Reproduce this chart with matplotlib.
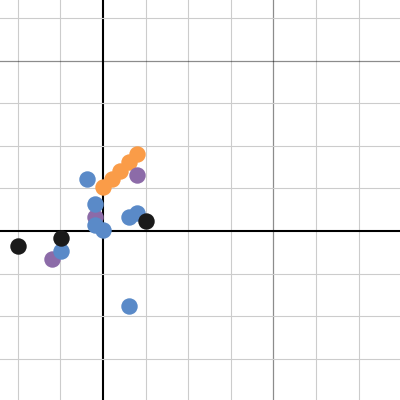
import numpy as np
import matplotlib.pyplot as plt

orange_x = [0.0, 0.21, 0.40, 0.61, 0.80]
orange_y = [1.03, 1.22, 1.41, 1.62, 1.81]
purple_x = [0.80, -0.19, -1.20]
purple_y = [1.31, 0.33, -0.66]
blue_x = [-0.38, -0.19, -0.19, 0.0, 0.61, 0.80, -0.99, 0.61]
blue_y = [1.22, 0.63, 0.14, 0.02, 0.33, 0.42, -0.47, -1.76]
black_x = [-2.0, -0.99, 1.01]
black_y = [-0.35, -0.16, 0.23]

fig = plt.figure(figsize=(4, 4), dpi=100)
ax = fig.add_axes([0, 0, 1, 1])
xmin, xmax = -103 / 42.6, 297 / 42.6
ymin, ymax = -169 / 42.6, 231 / 42.6
ax.set_xlim(xmin, xmax)
ax.set_ylim(ymin, ymax)

for v in range(-2, 7):
    ax.axvline(v, color='#000000' if v % 4 == 0 else '#cccccc',
               lw=1.5 if v == 0 else (0.9 if v % 4 == 0 else 0.8),
               alpha=1 if v == 0 else (0.45 if v % 4 == 0 else 1), zorder=1)
for v in range(-3, 6):
    ax.axhline(v, color='#000000' if v % 4 == 0 else '#cccccc',
               lw=1.5 if v == 0 else (0.9 if v % 4 == 0 else 0.8),
               alpha=1 if v == 0 else (0.45 if v % 4 == 0 else 1), zorder=1)

kw = dict(s=140, linewidths=0, zorder=3)
ax.scatter(orange_x, orange_y, color='#fa9c48', **kw)
ax.scatter(purple_x, purple_y, color='#8c6ba8', **kw)
ax.scatter(blue_x, blue_y, color='#5a8ac8', **kw)
ax.scatter(black_x, black_y, color='#1a1a1a', **kw)

ax.set_xticks([])
ax.set_yticks([])
for s in ax.spines.values():
    s.set_visible(False)
fig.savefig('out.png')
